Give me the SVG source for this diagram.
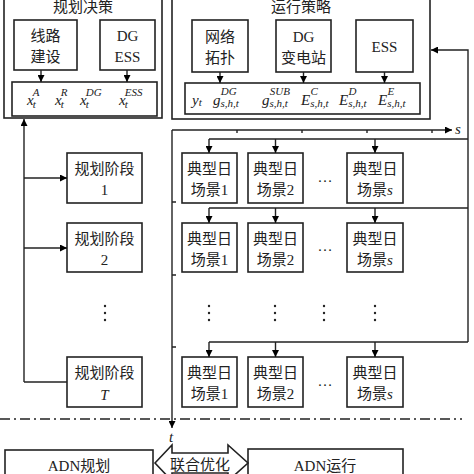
<svg xmlns="http://www.w3.org/2000/svg" width="474" height="474" viewBox="0 0 474 474">
<defs>
<marker id="ah" viewBox="0 0 10 10" refX="10" refY="5" markerWidth="7" markerHeight="7" orient="auto" markerUnits="userSpaceOnUse">
<path d="M0,0 L10,5 L0,10 z" fill="#000"/>
</marker>
<style>
.b{fill:#fff;stroke:#222;stroke-width:1.6}
.ob{fill:none;stroke:#222;stroke-width:1.6}
.l{fill:none;stroke:#222;stroke-width:1.4}
.a{fill:none;stroke:#222;stroke-width:1.4;marker-end:url(#ah)}
.t{font-family:"Liberation Serif","Noto Sans CJK SC",serif;font-size:15px;fill:#222;text-anchor:middle}
.v{font-family:"Liberation Serif",serif;font-style:italic;font-size:15px;fill:#222}
.vs{font-size:11px}
.d{fill:#222}
</style>
</defs>
<rect width="474" height="474" fill="#fff"/>

<g id="planning">
<rect class="ob" x="4" y="-12" width="158" height="130"/>
<text class="t" x="83" y="12" font-size="14">规划决策</text>
</g>
<g id="line-build">
<rect class="b" x="14" y="20" width="63" height="50"/>
<text class="t" x="45.5" y="41">线路</text>
<text class="t" x="45.5" y="62">建设</text>
</g>
<g id="dg-ess">
<rect class="b" x="100" y="20" width="55" height="50"/>
<text class="t" x="127.5" y="41">DG</text>
<text class="t" x="127.5" y="62">ESS</text>
</g>
<g id="plan-vars">
<rect class="b" x="12" y="82" width="145" height="34"/>
<text class="v" x="27" y="105">x<tspan class="vs" dx="-1" dy="3">t</tspan><tspan class="vs" dx="-3" dy="-12">A</tspan></text>
<text class="v" x="55" y="105">x<tspan class="vs" dx="-1" dy="3">t</tspan><tspan class="vs" dx="-3" dy="-12">R</tspan></text>
<text class="v" x="80" y="105">x<tspan class="vs" dx="-1" dy="3">t</tspan><tspan class="vs" dx="-3" dy="-12">DG</tspan></text>
<text class="v" x="119" y="105">x<tspan class="vs" dx="-1" dy="3">t</tspan><tspan class="vs" dx="-3" dy="-12">ESS</tspan></text>
</g>

<g id="operation">
<rect class="ob" x="172" y="-12" width="258" height="131"/>
<text class="t" x="301" y="12" font-size="14">运行策略</text>
</g>
<g id="topology">
<rect class="b" x="192" y="20" width="56" height="52"/>
<text class="t" x="220" y="42">网络</text>
<text class="t" x="220" y="63">拓扑</text>
</g>
<g id="dg-sub">
<rect class="b" x="276" y="20" width="55" height="52"/>
<text class="t" x="303.5" y="42">DG</text>
<text class="t" x="303.5" y="63">变电站</text>
</g>
<g id="ess">
<rect class="b" x="356" y="20" width="57" height="52"/>
<text class="t" x="384.5" y="52">ESS</text>
</g>
<g id="op-vars">
<rect class="b" x="185" y="83" width="235" height="31"/>
<text class="v" x="192" y="105">y<tspan class="vs" dy="1">t</tspan></text>
<text class="v" x="213" y="105">g<tspan class="vs" dy="2">s,h,t</tspan><tspan class="vs" dx="-18" dy="-12">DG</tspan></text>
<text class="v" x="262" y="105">g<tspan class="vs" dy="2">s,h,t</tspan><tspan class="vs" dx="-18" dy="-12">SUB</tspan></text>
<text class="v" x="301" y="105">E<tspan class="vs" dy="2">s,h,t</tspan><tspan class="vs" dx="-18" dy="-12">C</tspan></text>
<text class="v" x="339" y="105">E<tspan class="vs" dy="2">s,h,t</tspan><tspan class="vs" dx="-18" dy="-12">D</tspan></text>
<text class="v" x="378" y="105">E<tspan class="vs" dy="2">s,h,t</tspan><tspan class="vs" dx="-18" dy="-12">E</tspan></text>
</g>

<g id="stage1"><rect class="b" x="67" y="153" width="75" height="50"/><text class="t" x="104.5" y="174">规划阶段</text><text class="t" x="104.5" y="195">1</text></g>
<g id="stage2"><rect class="b" x="67" y="223" width="75" height="49"/><text class="t" x="104.5" y="244">规划阶段</text><text class="t" x="104.5" y="265">2</text></g>
<g id="stageT"><rect class="b" x="67" y="357" width="75" height="50"/><text class="t" x="104.5" y="378">规划阶段</text><text class="t" x="104.5" y="400" font-style="italic">T</text></g>

<g id="s11"><rect class="b" x="182" y="153" width="55" height="50"/><text class="t" x="209.5" y="174">典型日</text><text class="t" x="209.5" y="195">场景1</text></g>
<g id="s12"><rect class="b" x="248" y="153" width="55" height="50"/><text class="t" x="275.5" y="174">典型日</text><text class="t" x="275.5" y="195">场景2</text></g>
<g id="s1s"><rect class="b" x="347" y="153" width="56" height="50"/><text class="t" x="375" y="174">典型日</text><text class="t" x="375" y="195">场景<tspan font-style="italic">s</tspan></text></g>
<g id="s21"><rect class="b" x="182" y="223" width="55" height="49"/><text class="t" x="209.5" y="244">典型日</text><text class="t" x="209.5" y="265">场景1</text></g>
<g id="s22"><rect class="b" x="248" y="223" width="55" height="49"/><text class="t" x="275.5" y="244">典型日</text><text class="t" x="275.5" y="265">场景2</text></g>
<g id="s2s"><rect class="b" x="347" y="223" width="56" height="49"/><text class="t" x="375" y="244">典型日</text><text class="t" x="375" y="265">场景<tspan font-style="italic">s</tspan></text></g>
<g id="sT1"><rect class="b" x="182" y="357" width="55" height="50"/><text class="t" x="209.5" y="378">典型日</text><text class="t" x="209.5" y="399">场景1</text></g>
<g id="sT2"><rect class="b" x="248" y="357" width="55" height="50"/><text class="t" x="275.5" y="378">典型日</text><text class="t" x="275.5" y="399">场景2</text></g>
<g id="sTs"><rect class="b" x="347" y="357" width="56" height="50"/><text class="t" x="375" y="378">典型日</text><text class="t" x="375" y="399">场景<tspan font-style="italic">s</tspan></text></g>

<g id="dots">
<text class="t" x="325" y="182">…</text>
<text class="t" x="325" y="251">…</text>
<text class="t" x="325" y="386">…</text>
<g class="d">
<circle cx="105" cy="306" r="1.2"/><circle cx="105" cy="313" r="1.2"/><circle cx="105" cy="320" r="1.2"/>
<circle cx="209" cy="306" r="1.2"/><circle cx="209" cy="313" r="1.2"/><circle cx="209" cy="320" r="1.2"/>
<circle cx="275" cy="306" r="1.2"/><circle cx="275" cy="313" r="1.2"/><circle cx="275" cy="320" r="1.2"/>
<circle cx="324" cy="306" r="1.2"/><circle cx="324" cy="313" r="1.2"/><circle cx="324" cy="320" r="1.2"/>
<circle cx="375" cy="306" r="1.2"/><circle cx="375" cy="313" r="1.2"/><circle cx="375" cy="320" r="1.2"/>
</g>
</g>

<g id="adn-plan"><rect class="b" x="5" y="450" width="148" height="34"/><text class="t" x="79" y="471">ADN规划</text></g>
<g id="adn-op"><rect class="b" x="248" y="449" width="155" height="35"/><text class="t" x="325" y="471">ADN运行</text></g>
<g id="joint">
<polygon class="b" points="155,463 172,445 172,453 228,453 228,445 248,463 228,481 228,473 172,473 172,481"/>
<text class="t" x="200" y="470">联合优化</text>
</g>

<g id="connectors">
<path class="a" d="M41,70 V82"/>
<path class="a" d="M127,70 V82"/>
<path class="a" d="M220,72 V83"/>
<path class="a" d="M303.5,72 V83"/>
<path class="a" d="M384.5,72 V83"/>
<path class="a" d="M172,130 H452"/>
<text class="v" x="455" y="134">s</text>
<path class="l" d="M237,130 v3 M302,130 v3 M367,130 v3 M432,130 v3"/>
<path class="a" d="M172,130 V428"/>
<text class="v" x="169" y="442">t</text>
<path class="l" d="M172,202 h4 M172,275 h4 M172,347 h4"/>
<path class="a" d="M468,342 V50 H431"/>
<path class="l" d="M209,139 H468 M209,208 H468 M209,342 H468"/>
<path class="a" d="M209,139 V153"/><path class="a" d="M275.5,139 V153"/><path class="a" d="M375,139 V153"/>
<path class="a" d="M209,208 V223"/><path class="a" d="M275.5,208 V223"/><path class="a" d="M375,208 V223"/>
<path class="a" d="M209,342 V357"/><path class="a" d="M275.5,342 V357"/><path class="a" d="M375,342 V357"/>
<path class="a" d="M24,382 V119"/>
<path class="l" d="M24,382 H67"/>
<path class="a" d="M24,178 H67"/>
<path class="a" d="M24,248 H67"/>
<path class="l" d="M0,419 H462" stroke-dasharray="10,4,2,4"/>
</g>
</svg>
